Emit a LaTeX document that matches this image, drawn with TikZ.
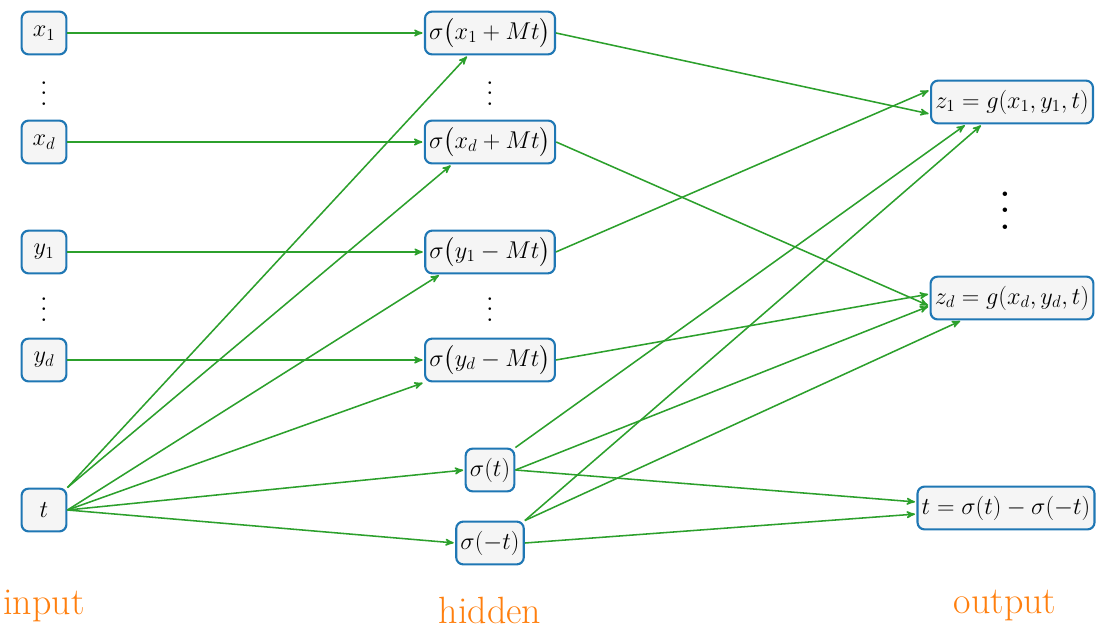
\documentclass[tikz,border=0pt]{standalone}
\usepackage{amsmath}
\usepackage{graphicx}
\usepackage{tikz}
\usetikzlibrary{arrows,positioning}
\definecolor{boxblue}{RGB}{31,119,180}
\definecolor{arrgreen}{RGB}{44,160,44}
\definecolor{lblorange}{RGB}{255,127,14}
\newcommand{\bigvdots}[1]{\scalebox{#1}{$\vdots$}}
\begin{document}
\begin{tikzpicture}[x=0.025cm,y=-0.025cm,->,>=stealth',semithick]

   \tikzstyle{unit} =[draw=boxblue,fill=black!4,line width=1.5pt,rounded corners=5pt,minimum height=1.07cm,minimum width=1.12cm,inner sep=3pt,font=\fontsize{17.5}{19}\selectfont]
   \tikzstyle{conn} =[draw=arrgreen,line width=1.1pt,shorten >=1pt]
   \tikzstyle{layer}=[text=lblorange,font=\fontsize{27}{29}\selectfont]

   \useasboundingbox (0,0) rectangle (1103,632);

   % input layer
   \node[unit] (x1) at (44,33) {$x_1$};
   \node[unit] (xd) at (44,142) {$x_d$};
   \node[unit] (y1) at (44,252) {$y_1$};
   \node[unit] (yd) at (44,360) {$y_d$};
   \node[unit] (t)  at (44,510) {$t$};
   \node (dx) at (44,86) {\bigvdots{1.8}};
   \node (dy) at (44,302) {\bigvdots{1.8}};

   % hidden layer
   \node[unit] (hx1) at (490,33)  {$\sigma\bigl(x_1+Mt\bigr)$};
   \node[unit] (hxd) at (490,142) {$\sigma\bigl(x_d+Mt\bigr)$};
   \node[unit] (hy1) at (490,252) {$\sigma\bigl(y_1-Mt\bigr)$};
   \node[unit] (hyd) at (490,360) {$\sigma\bigl(y_d-Mt\bigr)$};
   \node[unit] (ht)  at (490,470) {$\sigma(t)$};
   \node[unit] (hmt) at (490,543) {$\sigma(-t)$};
   \node (dhx) at (490,86) {\bigvdots{1.8}};
   \node (dhy) at (490,302) {\bigvdots{1.8}};

   % output layer
   \node[unit] (z1)   at (1012,102) {$z_1=g(x_1,y_1,t)$};
   \node[unit] (zd)   at (1012,298) {$z_d=g(x_d,y_d,t)$};
   \node[unit] (tout) at (1006,508) {$t=\sigma(t)-\sigma(-t)$};
   \node (dz) at (1005,198) {\bigvdots{3}};

   % labels
   \node[layer] (lin)  at (44,606)   {input};
   \node[layer] (lhid) at (490,610)  {hidden};
   \node[layer] (lout) at (1005,606) {output};

   \draw[conn] (x1) -- (hx1);
   \draw[conn] (xd) -- (hxd);
   \draw[conn] (y1) -- (hy1);
   \draw[conn] (yd) -- (hyd);

   \draw[conn] (t.north east) -- ([xshift=1.1cm]hx1.south west);
   \draw[conn] (t.north east) -- ([xshift=0.7cm]hxd.south west);
   \draw[conn] (t.east) -- ([xshift=0.4cm]hy1.south west);
   \draw[conn] (t.east) -- (hyd.south west);
   \draw[conn] (t.east) -- (ht.west);
   \draw[conn] (t.east) -- (hmt.west);

   \draw[conn] (hx1.east) -- ([yshift=-0.3cm]z1.west);
   \draw[conn] (hxd.east) -- ([yshift=-0.2cm]zd.west);
   \draw[conn] (hy1.east) -- ([yshift=0.3cm]z1.west);
   \draw[conn] (hyd.east) -- ([yshift=0.1cm]zd.west);

   \draw[conn] (ht.north east) -- ([xshift=0.9cm]z1.south west);
   \draw[conn] (ht.east) -- ([yshift=-0.2cm]zd.west);
   \draw[conn] (ht.east) -- ([yshift=0.15cm]tout.west);
   \draw[conn] (hmt.north east) -- ([xshift=1.3cm]z1.south west);
   \draw[conn] (hmt.north east) -- ([xshift=0.8cm]zd.south west);
   \draw[conn] (hmt.east) -- ([yshift=-0.15cm]tout.west);

\end{tikzpicture}
\end{document}
